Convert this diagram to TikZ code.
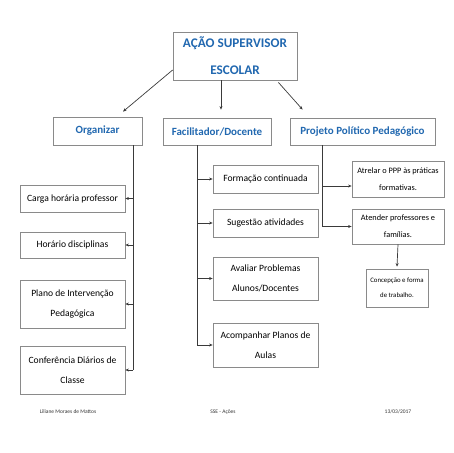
\documentclass[tikz,border=0pt]{standalone}
\usepackage{fontspec}
\setmainfont{Carlito}
\usetikzlibrary{arrows.meta}
\definecolor{ttl}{HTML}{2168B0}
\definecolor{bord}{HTML}{8A8A8A}
\definecolor{lin}{HTML}{3A3A3A}
\begin{document}
\begin{tikzpicture}[x=1pt,y=-1pt,
  box/.style={draw=bord,line width=0.8pt,fill=white,inner sep=0pt,align=center,
    font=\fontsize{9.6}{20}\selectfont},
  head/.style={box,text=ttl,font=\fontsize{11}{14}\selectfont\bfseries},
  conn/.style={draw=lin,line width=0.7pt},
  arr/.style={conn,-{Stealth[length=3.5pt,width=3pt]}},
  foot/.style={font=\fontsize{5.5}{6}\selectfont,text=black!80}]
\useasboundingbox (0,0) rectangle (453,453);
% top
\node[head,minimum width=124pt,minimum height=48pt,font=\fontsize{13.2}{27}\selectfont\bfseries] (top) at (235,56) {AÇÃO SUPERVISOR\\ESCOLAR};
\node[head,minimum width=89pt,minimum height=28pt] (org) at (97.5,131) {Organizar};
\node[head,minimum width=108pt,minimum height=27pt] (fac) at (217,131.5) {Facilitador/Docente};
\node[head,minimum width=145pt,minimum height=27pt] (ppp) at (362.5,131.5) {Projeto Político Pedagógico};
% left column
\node[box,minimum width=105pt,minimum height=27pt] (carga) at (72.5,198.5) {Carga horária professor};
\node[box,minimum width=105pt,minimum height=26pt] (hor) at (72.5,245) {Horário disciplinas};
\node[box,minimum width=105pt,minimum height=48pt] (plano) at (72.5,304) {Plano de Intervenção\\Pedagógica};
\node[box,minimum width=105pt,minimum height=48pt] (conf) at (72.5,370) {Conferência Diários de\\Classe};
% middle column
\node[box,minimum width=105pt,minimum height=28pt] (form) at (265.5,179) {Formação continuada};
\node[box,minimum width=105pt,minimum height=28pt] (sug) at (265.5,223) {Sugestão atividades};
\node[box,minimum width=105pt,minimum height=43pt] (aval) at (265.5,278.5) {Avaliar Problemas\\Alunos/Docentes};
\node[box,minimum width=105pt,minimum height=44pt] (acomp) at (265.5,345) {Acompanhar Planos de\\Aulas};
% right column
\node[box,minimum width=92pt,minimum height=36pt,font=\fontsize{8.3}{17}\selectfont] (atr) at (398,179) {Atrelar o PPP às práticas\\formativas.};
\node[box,minimum width=92pt,minimum height=35pt,font=\fontsize{8.3}{17}\selectfont] (atd) at (398,226.5) {Atender professores e\\famílias.};
\node[box,minimum width=62pt,minimum height=38pt,font=\fontsize{6.8}{15}\selectfont] (conc) at (397,288) {Concepção e forma\\de trabalho.};
% top arrows
\draw[arr] ([yshift=-14pt]top.west) -- ([xshift=25.5pt,yshift=5pt]org.north);
\draw[arr] ([xshift=-14pt]top.south) -- ([xshift=4pt,yshift=8pt]fac.north);
\draw[arr] ([xshift=-19pt,yshift=-2pt]top.south east) -- ([xshift=13pt,yshift=8pt]ppp.north west);
% organizar
\coordinate (ot) at (133,145);
\draw[conn] (ot) -- (133,370);
\foreach \n in {carga,hor,plano,conf} \draw[arr] (\n.east -| ot) -- (\n.east);
% facilitador
\coordinate (ft) at (197,145);
\draw[conn] (ft) -- (197,345);
\foreach \n in {form,sug,aval,acomp} \draw[arr] (\n.west -| ft) -- (\n.west);
% ppp
\coordinate (pt) at (322,145);
\coordinate (pb) at (322,186);
\draw[conn] (pt) -- (pb);
\draw[arr] (pb) -- ([yshift=-7pt]atr.west);
\draw[arr] (pb) |- (atd.west);
\draw[arr] (atd.south) -- ([yshift=2pt]conc.north);
% footer
\node[foot] (f1) at (68,412) {Liliane Moraes de Mattos};
\node[foot] (f2) at (223,412) {SSE - Ações};
\node[foot] (f3) at (398,412) {13/03/2017};
\end{tikzpicture}
\end{document}
